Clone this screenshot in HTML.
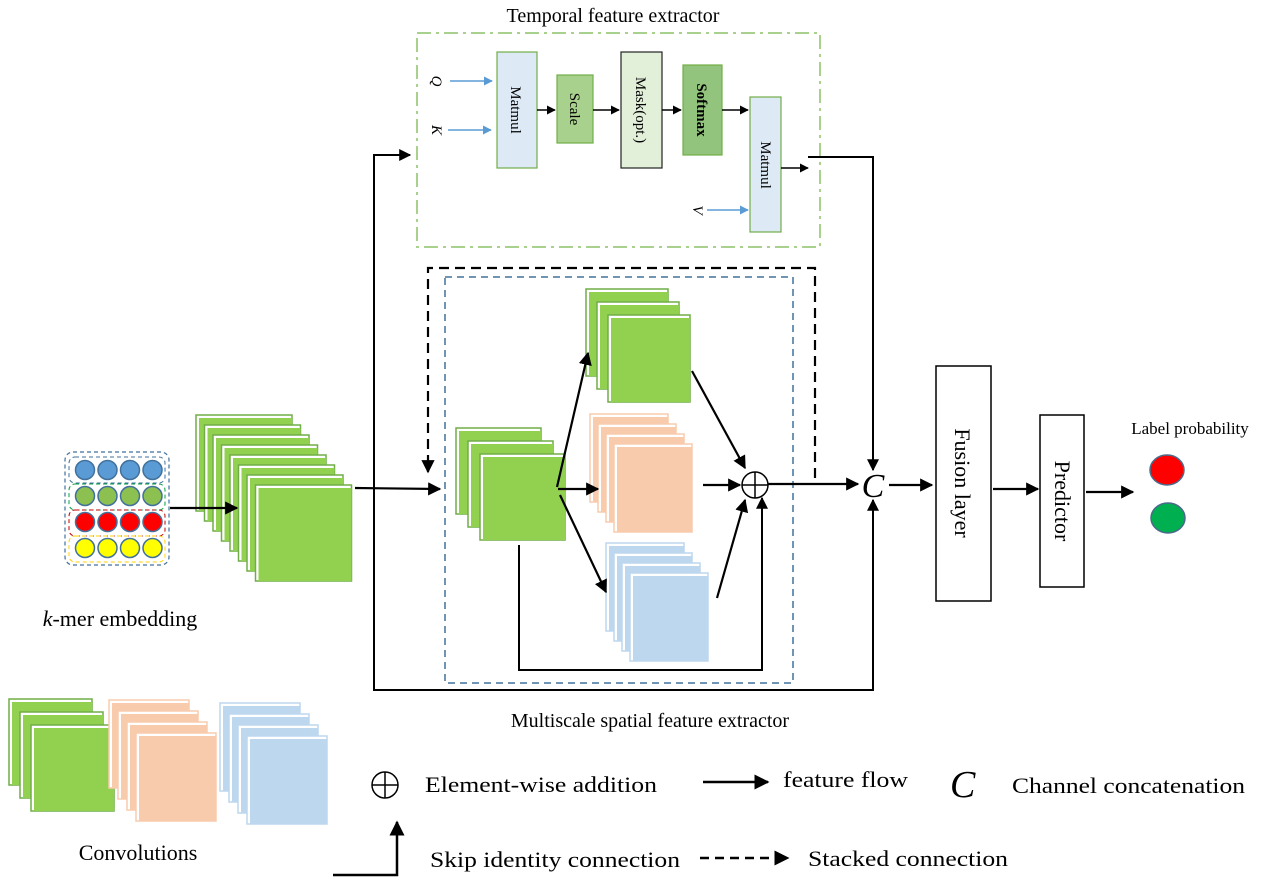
<!DOCTYPE html>
<html><head><meta charset="utf-8"><style>
html,body{margin:0;padding:0;background:#fff;}
svg{display:block;font-family:"Liberation Serif",serif;}
</style></head><body>
<svg id="s" width="1269" height="883" viewBox="0 0 1269 883" xmlns="http://www.w3.org/2000/svg">
<defs>
<marker id="a" viewBox="0 0 10 10" refX="9" refY="5" markerWidth="6" markerHeight="6" orient="auto"><path d="M0,0L10,5L0,10z" fill="#000"/></marker>
<marker id="ab" viewBox="0 0 10 10" refX="9" refY="5" markerWidth="6" markerHeight="6" orient="auto"><path d="M0,0L10,5L0,10z" fill="#5b9bd5"/></marker>
</defs>
<rect width="1269" height="883" fill="#fff"/>
<g id="stacks"></g>

<!-- Temporal -->
<text x="613" y="22" font-size="20" text-anchor="middle">Temporal feature extractor</text>
<rect x="417" y="33" width="403" height="214" fill="none" stroke="#a9d18e" stroke-width="2" stroke-dasharray="14,5,3,5"/>
<rect x="497" y="52" width="40" height="116" fill="#dde9f5" stroke="#70ad47" stroke-width="1.2"/>
<rect x="557" y="75" width="36" height="68" fill="#a9d18e" stroke="#70ad47" stroke-width="1.2"/>
<rect x="621" y="52" width="41" height="116" fill="#e2efd9" stroke="#222" stroke-width="1.2"/>
<rect x="683" y="65" width="39" height="90" fill="#93c47d" stroke="#70ad47" stroke-width="1.2"/>
<rect x="750" y="97" width="31" height="135" fill="#dde9f5" stroke="#70ad47" stroke-width="1.2"/>
<g font-size="15" text-anchor="middle">
<text transform="translate(511,110) rotate(90)">Matmul</text>
<text transform="translate(570,109) rotate(90)">Scale</text>
<text transform="translate(636,110) rotate(90)">Mask(opt.)</text>
<text transform="translate(697,110) rotate(90)" font-weight="bold">Softmax</text>
<text transform="translate(761,165) rotate(90)">Matmul</text>
<text transform="translate(432,81) rotate(90)" font-style="italic">Q</text>
<text transform="translate(432,130) rotate(90)" font-style="italic">K</text>
<text transform="translate(693,210) rotate(90)" font-style="italic">V</text>
</g>
<g stroke="#5b9bd5" stroke-width="1.5">
<line x1="450" y1="81" x2="492" y2="81" marker-end="url(#ab)"/>
<line x1="448" y1="130" x2="491" y2="130" marker-end="url(#ab)"/>
<line x1="707" y1="210" x2="748" y2="210" marker-end="url(#ab)"/>
</g>
<g stroke="#000" stroke-width="1.5">
<line x1="537" y1="110" x2="555" y2="110" marker-end="url(#a)"/>
<line x1="593" y1="110" x2="619" y2="110" marker-end="url(#a)"/>
<line x1="662" y1="110" x2="681" y2="110" marker-end="url(#a)"/>
<line x1="722" y1="110" x2="748" y2="110" marker-end="url(#a)"/>
<line x1="781" y1="168" x2="808" y2="168" marker-end="url(#a)"/>
</g>

<!-- Spatial box -->
<rect x="445" y="277" width="348" height="406" fill="none" stroke="#41719c" stroke-width="1.5" stroke-dasharray="7,5"/>
<text x="650" y="727" font-size="20" text-anchor="middle">Multiscale spatial feature extractor</text>

<g stroke="#000" stroke-width="2.2" fill="none">
<path d="M815,478 L815,268 L428,268 L428,472" stroke-dasharray="10,6" marker-end="url(#a)"/>
<line x1="170" y1="508" x2="237" y2="508" marker-end="url(#a)"/>
<line x1="355" y1="488" x2="440" y2="489" marker-end="url(#a)"/>
<path d="M374,680 L374,690 L873,690 L873,500" stroke-width="2" marker-end="url(#a)"/>
<path d="M374,690 L374,155 L410,155" stroke-width="2" marker-end="url(#a)"/>
<path d="M808,157 L873,157 L873,470" stroke-width="2" marker-end="url(#a)"/>
<line x1="768" y1="484" x2="858" y2="484" marker-end="url(#a)"/>
<line x1="889" y1="485" x2="932" y2="485" marker-end="url(#a)"/>
<line x1="993" y1="489" x2="1038" y2="489" marker-end="url(#a)"/>
<line x1="1086" y1="492" x2="1133" y2="492" marker-end="url(#a)"/>
<path d="M519,545 L519,670 L762,670 L762,498" stroke-width="2" marker-end="url(#a)"/>
<line x1="557" y1="487" x2="588" y2="353" marker-end="url(#a)"/>
<line x1="558" y1="489" x2="598" y2="489" marker-end="url(#a)"/>
<line x1="560" y1="495" x2="606" y2="592" marker-end="url(#a)"/>
<line x1="692" y1="371" x2="745" y2="468" marker-end="url(#a)"/>
<line x1="703" y1="485" x2="740" y2="485" marker-end="url(#a)"/>
<line x1="717" y1="598" x2="745" y2="500" marker-end="url(#a)"/>
</g>
<g stroke="#000" stroke-width="1.5" fill="#fff">
<circle cx="755" cy="485" r="13"/><line x1="742" y1="485" x2="768" y2="485"/><line x1="755" y1="472" x2="755" y2="498"/>
</g>
<text x="873" y="497" font-size="34" font-style="italic" text-anchor="middle">C</text>

<rect x="936" y="366" width="55" height="235" fill="#fff" stroke="#000" stroke-width="1.5"/>
<rect x="1040" y="415" width="44" height="172" fill="#fff" stroke="#000" stroke-width="1.5"/>
<text transform="translate(955,483) rotate(90)" font-size="22" text-anchor="middle">Fusion layer</text>
<text transform="translate(1055,501) rotate(90)" font-size="22" text-anchor="middle">Predictor</text>
<text x="1190" y="434" font-size="17" text-anchor="middle">Label probability</text>
<ellipse cx="1167" cy="470" rx="17" ry="15" fill="#f00" stroke="#4a6a8a" stroke-width="1.5"/>
<ellipse cx="1168" cy="518" rx="17" ry="15" fill="#00b050" stroke="#4a6a8a" stroke-width="1.5"/>

<rect x="65" y="452" width="104" height="113" rx="8" fill="none" stroke="#41719c" stroke-width="1.2" stroke-dasharray="4,3"/>
<rect x="69" y="457" width="96" height="26" rx="6" fill="none" stroke="#41719c" stroke-width="1" stroke-dasharray="4,3"/>
<rect x="69" y="484" width="96" height="26" rx="6" fill="none" stroke="#00a040" stroke-width="1" stroke-dasharray="4,3"/>
<rect x="69" y="510" width="96" height="26" rx="6" fill="none" stroke="#c00000" stroke-width="1" stroke-dasharray="4,3"/>
<rect x="69" y="536" width="96" height="26" rx="6" fill="none" stroke="#ffd000" stroke-width="1" stroke-dasharray="4,3"/>
<g id="dots" stroke="#41719c" stroke-width="1.5"></g>
<text x="120" y="626" font-size="22" text-anchor="middle"><tspan font-style="italic">k</tspan>-mer embedding</text>

<text x="138" y="860" font-size="22" text-anchor="middle">Convolutions</text>
<g stroke="#000" stroke-width="1.5" fill="#fff">
<circle cx="385" cy="785" r="13"/><line x1="372" y1="785" x2="398" y2="785"/><line x1="385" y1="772" x2="385" y2="798"/>
</g>
<g font-size="22">
<text x="425" y="792" textLength="232" lengthAdjust="spacingAndGlyphs">Element-wise addition</text>
<text x="783" y="787" textLength="125" lengthAdjust="spacingAndGlyphs">feature flow</text>
<text x="950" y="797" font-size="38" font-style="italic">C</text>
<text x="1012" y="793" textLength="233" lengthAdjust="spacingAndGlyphs">Channel concatenation</text>
<text x="430" y="867" textLength="250" lengthAdjust="spacingAndGlyphs">Skip identity connection</text>
<text x="808" y="866" textLength="200" lengthAdjust="spacingAndGlyphs">Stacked connection</text>
</g>
<g stroke="#000" stroke-width="2.5" fill="none">
<line x1="703" y1="782" x2="768" y2="782" marker-end="url(#a)"/>
<line x1="700" y1="858" x2="788" y2="858" stroke-dasharray="9,6" marker-end="url(#a)"/>
<path d="M333,875 L397,875 L397,822" marker-end="url(#a)"/>
</g>
</svg>
<script>
var NS="http://www.w3.org/2000/svg",g=document.getElementById("stacks");
function R(x,y,w,h,f,s){var r=document.createElementNS(NS,"rect");r.setAttribute("x",x);r.setAttribute("y",y);r.setAttribute("width",w);r.setAttribute("height",h);r.setAttribute("fill",f);if(s){r.setAttribute("stroke",s);r.setAttribute("stroke-width","1.5");}g.appendChild(r);}
function stack(x0,y0,w,h,n,dx,dy,f,s){for(var i=0;i<n;i++){var x=x0+i*dx,y=y0+i*dy;R(x,y,w,h,"#fff",s);R(x+3,y+3,w-3,h-3,f);}}
stack(196,415,96,96,8,8.5,10,"#92d050","#70ad47");
stack(456,428,85,86,3,12,13,"#92d050","#70ad47");
stack(586,289,82,87,3,11,13,"#92d050","#70ad47");
stack(590,414,78,88,4,8,10,"#f8cbad","#f8cbad");
stack(606,543,78,88,4,8,10,"#bdd7ee","#bdd7ee");
stack(9,699,83,86,3,11,13,"#92d050","#70ad47");
stack(109,700,80,88,4,9,11,"#f8cbad","#f8cbad");
stack(220,703,80,88,4,9,11,"#bdd7ee","#bdd7ee");
var d=document.getElementById("dots"),cols=["#5b9bd5","#8cc152","#ff0000","#ffff00"];
for(var r=0;r<4;r++)for(var c=0;c<4;c++){var e=document.createElementNS(NS,"circle");e.setAttribute("cx",85+c*22.5);e.setAttribute("cy",470+r*26);e.setAttribute("r",9.5);e.setAttribute("fill",cols[r]);d.appendChild(e);}
</script>
</body></html>
